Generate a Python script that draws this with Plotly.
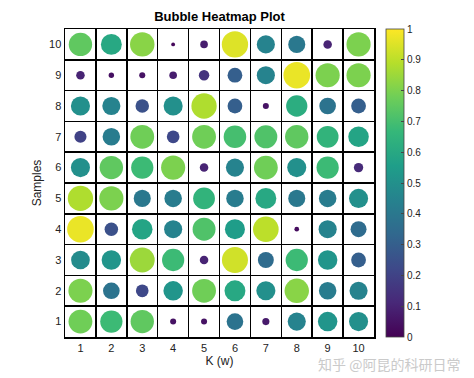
import numpy as np
import plotly.graph_objects as go

x_labels = [str(i) for i in range(1, 11)]
y_labels = [str(i) for i in range(1, 11)]

# rows: sample 1 (bottom) .. sample 10 (top); columns K = 1..10
row1 = [0.78, 0.68, 0.75, 0.05, 0.05, 0.38, 0.07, 0.45, 0.52, 0.50]
row2 = [0.80, 0.38, 0.22, 0.52, 0.78, 0.60, 0.50, 0.82, 0.42, 0.45]
row3 = [0.48, 0.52, 0.85, 0.68, 0.10, 0.93, 0.35, 0.68, 0.52, 0.30]
row4 = [0.97, 0.25, 0.58, 0.45, 0.72, 0.55, 0.90, 0.03, 0.45, 0.35]
row5 = [0.88, 0.80, 0.40, 0.42, 0.65, 0.42, 0.60, 0.40, 0.42, 0.50]
row6 = [0.50, 0.75, 0.68, 0.80, 0.10, 0.45, 0.78, 0.50, 0.68, 0.12]
row7 = [0.20, 0.42, 0.78, 0.22, 0.78, 0.70, 0.72, 0.75, 0.65, 0.58]
row8 = [0.50, 0.45, 0.25, 0.50, 0.88, 0.30, 0.05, 0.62, 0.38, 0.30]
row9 = [0.10, 0.04, 0.05, 0.08, 0.15, 0.30, 0.45, 0.97, 0.80, 0.80]
row10 = [0.75, 0.60, 0.82, 0.02, 0.08, 0.95, 0.45, 0.40, 0.10, 0.80]

rows = [row1, row2, row3, row4, row5, row6, row7, row8, row9, row10]

xs, ys, vs = [], [], []
for j, r in enumerate(rows):
    for i, v in enumerate(r):
        xs.append(i + 1)
        ys.append(j + 1)
        vs.append(v)
vs = np.array(vs)

fig = go.Figure(go.Scatter(
    x=xs, y=ys, mode="markers",
    marker=dict(
        size=27 * np.sqrt(vs), sizemode="diameter", opacity=1,
        color=vs, colorscale="Viridis", cmin=0, cmax=1,
        line=dict(width=0),
        colorbar=dict(
            x=(386 - 65) / 309, xanchor="left", xref="paper", xpad=0,
            y=0.5, yanchor="middle", yref="paper", len=1, lenmode="fraction", ypad=0,
            thickness=18, outlinewidth=0.8, outlinecolor="#444",
            tickvals=[round(0.1 * k, 1) for k in range(11)],
            ticktext=["0", "0.1", "0.2", "0.3", "0.4", "0.5", "0.6", "0.7", "0.8", "0.9", "1"],
            ticks="inside", ticklen=3, tickcolor="#444",
            tickfont=dict(size=10, color="#222"),
        ),
    ),
    showlegend=False, hoverinfo="skip",
))

grid_pos = [k + 0.5 for k in range(11)]
axis_common = dict(
    range=[0.5, 10.5], showgrid=False, zeroline=False, automargin=False,
    showline=True, linecolor="black", linewidth=1.5, mirror=True,
    ticks="", tickfont=dict(size=11, color="#222"),
    minor=dict(tickvals=grid_pos, showgrid=True, gridcolor="black", gridwidth=1.5, ticks=""),
)

fig.update_layout(
    width=474, height=378,
    margin=dict(l=65, r=100, t=29, b=41, autoexpand=False),
    paper_bgcolor="white", plot_bgcolor="white",
    hovermode=False, dragmode=False,
    font=dict(family="Liberation Sans, Arial, sans-serif", color="#222"),
    title=dict(text="<b>Bubble Heatmap Plot</b>", x=0.5, xref="paper", xanchor="center",
               y=1, yref="container", yanchor="top", pad=dict(t=12),
               font=dict(size=13, color="black")),
    xaxis=dict(**axis_common, tickvals=list(range(1, 11)), ticktext=x_labels,
               title=dict(text="K (w)", font=dict(size=12), standoff=4)),
    yaxis=dict(**axis_common, tickvals=list(range(1, 11)), ticktext=y_labels,
               title=dict(text="Samples", font=dict(size=12), standoff=5)),
    annotations=[dict(text="知乎 @阿昆的科研日常", xref="paper", yref="paper",
                      x=(462 - 65) / 309, y=-(364 - 337) / 308, xanchor="right", yanchor="middle",
                      showarrow=False,
                      font=dict(family="Noto Sans CJK SC", size=14, color="#cacaca"))],
)

fig.write_html("out.html", config={"displayModeBar": False, "staticPlot": True},
               post_script="document.body.style.margin='0';document.body.style.overflow='hidden';")
